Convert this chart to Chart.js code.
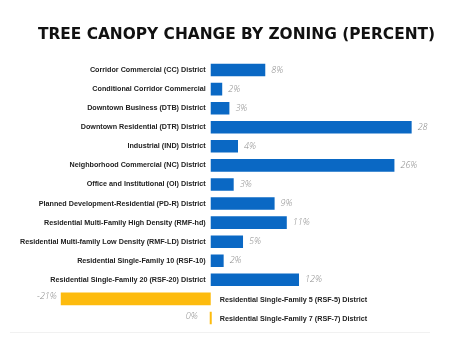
<!DOCTYPE html>
<html>
<head>
<meta charset="utf-8">
<script src="https://cdn.jsdelivr.net/npm/chart.js@4.4.1/dist/chart.umd.min.js"></script>
<style>
  html, body { margin: 0; padding: 0; background: #ffffff; }
  #wrap { width: 474px; height: 355px; }
</style>
</head>
<body>
<div id="wrap"><canvas id="c" width="474" height="355"></canvas></div>
<script>
const titleText = 'TREE CANOPY CHANGE BY ZONING (PERCENT)';
const categories = [
  'Corridor Commercial (CC) District',
  'Conditional Corridor Commercial',
  'Downtown Business (DTB) District',
  'Downtown Residential (DTR) District',
  'Industrial (IND) District',
  'Neighborhood Commercial (NC) District',
  'Office and Institutional (OI) District',
  'Planned Development-Residential (PD-R) District',
  'Residential Multi-Family High Density (RMF-hd)',
  'Residential Multi-family Low Density (RMF-LD) District',
  'Residential Single-Family 10 (RSF-10)',
  'Residential Single-Family 20 (RSF-20) District',
  'Residential Single-Family 5 (RSF-5) District',
  'Residential Single-Family 7 (RSF-7) District'
];
const values = [7.6, 1.6, 2.6, 28, 3.8, 25.6, 3.2, 8.9, 10.6, 4.5, 1.8, 12.3, -20.9, 0];
const valueLabels = ['8%', '2%', '3%', '28', '4%', '26%', '3%', '9%', '11%', '5%', '2%', '12%', '-21%', '0%'];

const BLUE = '#0a68c4';
const YELLOW = '#fdbb0e';

const labelPlugin = {
  id: 'labelPlugin',
  afterDatasetsDraw(chart) {
    const ctx = chart.ctx;
    const meta = chart.getDatasetMeta(0);
    const zero = chart.scales.x.getPixelForValue(0);
    const area = chart.chartArea;
    ctx.save();
    // title
    ctx.font = 'bold 15.4px "DejaVu Sans", sans-serif';
    ctx.fillStyle = '#111111';
    ctx.textAlign = 'center';
    ctx.textBaseline = 'middle';
    ctx.fillText(titleText, 236.5, 35);
    // faint baseline
    ctx.strokeStyle = '#f1f1f1';
    ctx.lineWidth = 1;
    ctx.beginPath();
    ctx.moveTo(10, Math.round(area.bottom + 4) + 0.5);
    ctx.lineTo(430, Math.round(area.bottom + 4) + 0.5);
    ctx.stroke();
    meta.data.forEach((bar, i) => {
      const v = values[i];
      const y = bar.y;
      ctx.font = 'bold 7.2px "Liberation Sans", sans-serif';
      ctx.fillStyle = '#222222';
      if (v > 0) {
        ctx.textAlign = 'right';
        ctx.fillText(categories[i], zero - 5, y);
      } else {
        ctx.textAlign = 'left';
        ctx.fillText(categories[i], zero + 9, y + 1);
      }
      ctx.font = 'italic 300 9px "Open Sans", sans-serif';
      ctx.fillStyle = '#8c8c8c';
      if (v > 0) {
        ctx.textAlign = 'left';
        ctx.fillText(valueLabels[i], bar.x + 6, y);
      } else {
        ctx.textAlign = 'right';
        const end = Math.min(bar.x, bar.base);
        ctx.fillText(valueLabels[i], v < 0 ? end - 4 : end - 12, y - 2);
      }
    });
    ctx.restore();
  }
};

new Chart(document.getElementById('c'), {
  type: 'bar',
  data: {
    labels: categories,
    datasets: [{
      data: values,
      backgroundColor: (c) => (c.raw <= 0 ? YELLOW : BLUE),
      borderWidth: 0,
      categoryPercentage: 1,
      barPercentage: 0.66,
      minBarLength: 2
    }]
  },
  options: {
    indexAxis: 'y',
    responsive: false,
    animation: false,
    layout: { padding: { left: 17, right: 48, top: 60.5, bottom: 27.5 } },
    plugins: {
      legend: { display: false },
      tooltip: { enabled: false },
      title: { display: false }
    },
    scales: {
      x: { display: false, min: -27, max: 30 },
      y: { display: false }
    }
  },
  plugins: [labelPlugin]
});
</script>
</body>
</html>
